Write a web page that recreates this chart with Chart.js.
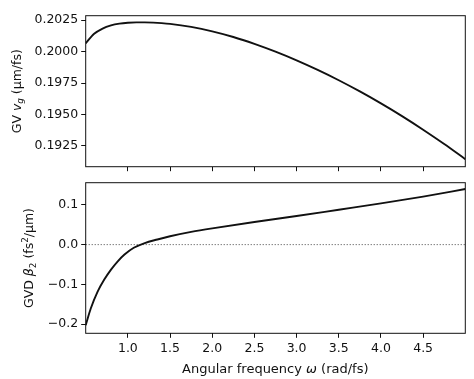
<!DOCTYPE html>
<html>
<head>
<meta charset="utf-8">
<script src="https://cdn.jsdelivr.net/npm/chart.js@4/dist/chart.umd.min.js"></script>
<style>
  html, body { margin: 0; padding: 0; background: #fff; }
  #wrap { position: relative; width: 474px; height: 379px; }
  canvas { position: absolute; left: 0; top: 0; }
</style>
</head>
<body>
<div id="wrap">
  <canvas id="gvChart" width="474" height="379"></canvas>
  <canvas id="gvdChart" width="474" height="379"></canvas>
</div>
<script>
// --- 1. DATA ---
const omegaTop = [0.5, 0.6, 0.7, 0.8, 0.9, 1.0, 1.1, 1.2, 1.3, 1.4, 1.5, 1.75, 2.0, 2.25, 2.5, 2.75, 3.0, 3.25, 3.5, 3.75, 4.0, 4.25, 4.5, 4.75, 5.0];
const vgValues = [0.20066, 0.20141, 0.20183, 0.20208, 0.20222, 0.20229, 0.20232, 0.20232, 0.20230, 0.20226, 0.20220, 0.20196, 0.20161, 0.20116, 0.20061, 0.19999, 0.19930, 0.19854, 0.19772, 0.19683, 0.19588, 0.19487, 0.19379, 0.19265, 0.19145];

const omegaBottom = [0.5, 0.56, 0.64, 0.72, 0.8, 0.88, 0.96, 1.07, 1.2, 1.35, 1.5, 1.75, 2.0, 2.5, 3.0, 3.5, 4.0, 4.5, 5.0];
const beta2Values = [-0.203, -0.161, -0.119, -0.088, -0.063, -0.042, -0.025, -0.008, 0.004, 0.013, 0.021, 0.032, 0.041, 0.057, 0.072, 0.088, 0.104, 0.121, 0.140];

const xTicks = [1.0, 1.5, 2.0, 2.5, 3.0, 3.5, 4.0, 4.5];
const vgTicks = [0.1925, 0.1950, 0.1975, 0.2000, 0.2025];
const beta2Ticks = [-0.2, -0.1, 0.0, 0.1];

const FONT = 'DejaVu Sans';
const INK = '#111';

// --- 2. HELPERS ---
const toPoints = (xs, ys) => xs.map((x, i) => ({ x, y: ys[i] }));
const fixedTicks = values => scale => { scale.ticks = values.map(v => ({ value: v })); };
const fmtMinus = s => s.replace('-', '\u2212');

// draw text made of pieces (italic, sub, sup), centred on cx, sitting on baseline
function drawMixed(ctx, parts, cx, baseline, rotate, size) {
    ctx.save();
    ctx.fillStyle = INK;
    ctx.textBaseline = 'alphabetic';
    ctx.textAlign = 'left';
    const fontOf = p => `${p.italic ? 'oblique ' : ''}${p.sub || p.sup ? size * 0.7 : size}px "${FONT}"`;
    let total = 0;
    parts.forEach(p => { ctx.font = fontOf(p); p.w = ctx.measureText(p.t).width; total += p.w; });
    ctx.translate(cx, baseline);
    if (rotate) ctx.rotate(-Math.PI / 2);
    let x = -total / 2;
    parts.forEach(p => {
        ctx.font = fontOf(p);
        let dy = 0;
        if (p.sub) dy = size * 0.2;
        if (p.sup) dy = -size * 0.42;
        ctx.fillText(p.t, x, dy);
        x += p.w;
    });
    ctx.restore();
}

const framePlugin = {
    id: 'frame',
    afterDraw(chart) {
        const a = chart.chartArea;
        const ctx = chart.ctx;
        ctx.save();
        ctx.strokeStyle = INK;
        ctx.lineWidth = 1;
        ctx.strokeRect(a.left, a.top, a.right - a.left, a.bottom - a.top);
        ctx.restore();
    }
};

function labelPlugin(list) {
    return {
        id: 'labels',
        afterDraw(chart) {
            list.forEach(l => drawMixed(chart.ctx, l.parts, l.x, l.y, l.rotate, l.size || 12.5));
        }
    };
}

function axisX(showLabels, height) {
    return {
        type: 'linear',
        min: 0.5,
        max: 5.0,
        afterBuildTicks: fixedTicks(xTicks),
        afterFit: s => { s.height = height; },
        ticks: { display: showLabels, font: { family: FONT, size: 12.5 }, color: INK, padding: 3, maxRotation: 0,
                 callback: v => v.toFixed(1) },
        grid: { drawOnChartArea: false, drawTicks: true, tickLength: 4.5, color: INK, lineWidth: 1 },
        border: { display: false }
    };
}

function axisY(min, max, ticks, digits) {
    return {
        min, max,
        afterBuildTicks: fixedTicks(ticks),
        afterFit: s => { s.width = 85.7; },
        ticks: { font: { family: FONT, size: 12.5 }, color: INK, padding: 3,
                 callback: v => fmtMinus(v.toFixed(digits)) },
        grid: { drawOnChartArea: false, drawTicks: true, tickLength: 4.5, color: INK, lineWidth: 1 },
        border: { display: false }
    };
}

const lineStyle = { borderColor: INK, borderWidth: 1.9, pointRadius: 0, cubicInterpolationMode: 'monotone', fill: false };

// --- 3. TOP PANEL: GROUP VELOCITY ---
new Chart(document.getElementById('gvChart'), {
    type: 'line',
    data: { datasets: [{ data: toPoints(omegaTop, vgValues), ...lineStyle }] },
    options: {
        responsive: false, animation: false, devicePixelRatio: 1,
        layout: { padding: { left: 0, right: 8.7, top: 15.7, bottom: 379 - 166.7 - 5 } },
        plugins: { legend: { display: false }, tooltip: { enabled: false } },
        scales: { x: axisX(false, 5), y: axisY(0.19085, 0.20285, vgTicks, 4) }
    },
    plugins: [framePlugin, labelPlugin([
        { x: 20.7, y: 91.2, rotate: true, parts: [
            { t: 'GV ' }, { t: 'v', italic: true }, { t: 'g', italic: true, sub: true }, { t: ' (\u03bcm/fs)' }
        ] }
    ])]
});

// --- 4. BOTTOM PANEL: GROUP VELOCITY DISPERSION ---
new Chart(document.getElementById('gvdChart'), {
    type: 'line',
    data: {
        datasets: [
            { data: toPoints(omegaBottom, beta2Values), ...lineStyle },
            { data: toPoints([0.5, 5.0], [0, 0]), borderColor: '#444', borderWidth: 1, borderDash: [1, 2], pointRadius: 0, fill: false }
        ]
    },
    options: {
        responsive: false, animation: false, devicePixelRatio: 1,
        layout: { padding: { left: 0, right: 8.7, top: 182.7, bottom: 0 } },
        plugins: { legend: { display: false }, tooltip: { enabled: false } },
        scales: { x: axisX(true, 379 - 333.3), y: axisY(-0.2234, 0.156, beta2Ticks, 1) }
    },
    plugins: [framePlugin, labelPlugin([
        { x: 33.3, y: 258, rotate: true, parts: [
            { t: 'GVD ' }, { t: '\u03b2', italic: true }, { t: '2', sub: true }, { t: ' (fs' }, { t: '2', sup: true }, { t: '/\u03bcm)' }
        ] },
        { x: 275.3, y: 373.3, rotate: false, size: 13, parts: [
            { t: 'Angular frequency ' }, { t: '\u03c9', italic: true }, { t: ' (rad/fs)' }
        ] }
    ])]
});
</script>
</body>
</html>
